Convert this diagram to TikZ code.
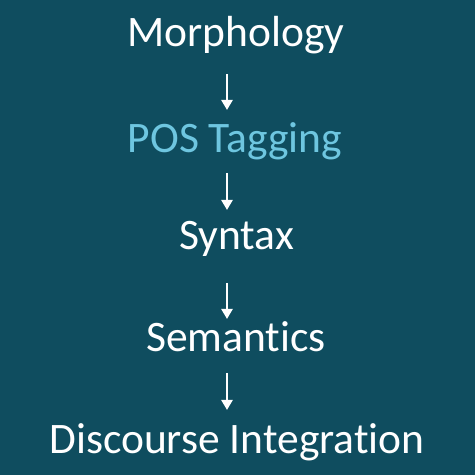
\documentclass[tikz,border=0pt]{standalone}
\usepackage{fontspec}
\setmainfont{Carlito}[Ligatures=NoCommon]
\usetikzlibrary{arrows.meta}
\definecolor{bgteal}{HTML}{0F4D5F}
\definecolor{poscol}{HTML}{6EC6E0}
\begin{document}
\begin{tikzpicture}[x=1pt,y=1pt,
  lbl/.style={anchor=base,inner sep=0pt,text=white,font=\fontsize{43.5}{50}\selectfont},
  arr/.style={draw=white,line width=2.8pt,-{Triangle[width=11pt,length=10pt]}}]
\fill[bgteal] (0,0) rectangle (475,475);
\useasboundingbox (0,0) rectangle (475,475);
\node[lbl] (m) at (236,428) {Morphology};
\node[lbl,text=poscol] (p) at (235,322) {POS Tagging};
\node[lbl] (s) at (236.5,225) {Syntax};
\node[lbl] (se) at (236,123) {Semantics};
\node[lbl] (d) at (237,22) {Discourse Integration};
\coordinate (a1s) at (227,401);
\coordinate (a1e) at (227,365);
\coordinate (a2s) at (227,302);
\coordinate (a2e) at (227,265);
\coordinate (a3s) at (227,192);
\coordinate (a3e) at (227,156);
\coordinate (a4s) at (227,102);
\coordinate (a4e) at (227,65);
\draw[arr] (a1s) -- (a1e);
\draw[arr] (a2s) -- (a2e);
\draw[arr] (a3s) -- (a3e);
\draw[arr] (a4s) -- (a4e);
\end{tikzpicture}
\end{document}
